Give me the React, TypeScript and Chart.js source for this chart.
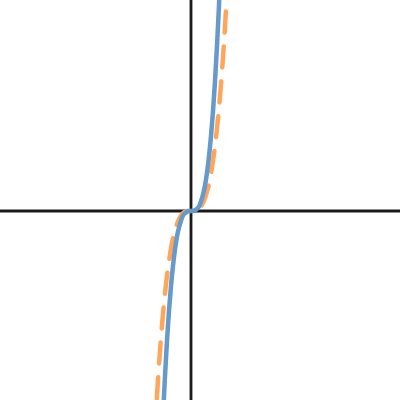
import { useEffect, useRef } from "react";
import { Chart, registerables } from "chart.js";

Chart.register(...registerables);

// values
const blueX = [-1.5, -1.4, -1.3, -1.2, -1.1, -1.0, -0.9, -0.8, -0.7, -0.6, -0.5, -0.4, -0.3, -0.2, -0.1, 0,
  0.1, 0.2, 0.3, 0.4, 0.5, 0.6, 0.7, 0.8, 0.9, 1.0, 1.1, 1.2, 1.3, 1.4, 1.5];
const blueY = [-3.38, -2.74, -2.2, -1.73, -1.33, -1.0, -0.73, -0.51, -0.34, -0.22, -0.13, -0.06, -0.03, -0.01, 0, 0,
  0, 0.01, 0.03, 0.06, 0.13, 0.22, 0.34, 0.51, 0.73, 1.0, 1.33, 1.73, 2.2, 2.74, 3.38];

const orangeX = [-1.9, -1.8, -1.7, -1.6, -1.5, -1.4, -1.3, -1.2, -1.1, -1.0, -0.9, -0.8, -0.7, -0.6, -0.5, -0.4, -0.3, -0.2, -0.1, 0,
  0.1, 0.2, 0.3, 0.4, 0.5, 0.6, 0.7, 0.8, 0.9, 1.0, 1.1, 1.2, 1.3, 1.4, 1.5, 1.6, 1.7, 1.8, 1.9];
const orangeY = [-3.43, -2.92, -2.46, -2.05, -1.69, -1.37, -1.1, -0.86, -0.67, -0.5, -0.36, -0.26, -0.17, -0.11, -0.06, -0.03, -0.01, 0, 0, 0,
  0, 0, 0.01, 0.03, 0.06, 0.11, 0.17, 0.26, 0.36, 0.5, 0.67, 0.86, 1.1, 1.37, 1.69, 2.05, 2.46, 2.92, 3.43];

const xRange = [-9.55, 10.45];
const yRange = [-2.52, 2.813];

const toPoints = (xs: number[], ys: number[]) => xs.map((x, i) => ({ x, y: ys[i] }));

// draws the two axis lines through zero across the whole canvas
const zeroAxes = {
  id: "zeroAxes",
  beforeDatasetsDraw(chart: any) {
    const { ctx, scales, width, height } = chart;
    const px = scales.x.getPixelForValue(0);
    const py = scales.y.getPixelForValue(0);
    ctx.save();
    ctx.strokeStyle = "#1a1a1a";
    ctx.lineWidth = 2.8;
    ctx.beginPath();
    ctx.moveTo(0, py);
    ctx.lineTo(width, py);
    ctx.moveTo(px, 0);
    ctx.lineTo(px, height);
    ctx.stroke();
    ctx.restore();
  },
};

export default function App() {
  const chartRef = useRef<HTMLCanvasElement>(null);

  useEffect(() => {
    let myChart: Chart | null = null;
    if (chartRef.current) {
      myChart = new Chart(chartRef.current, {
        type: "line",
        data: {
          datasets: [
            {
              data: toPoints(blueX, blueY),
              borderColor: "rgb(102,153,204)",
              borderWidth: 4.5,
              pointRadius: 0,
              cubicInterpolationMode: "monotone",
              fill: false,
            },
            {
              data: toPoints(orangeX, orangeY),
              borderColor: "rgb(255,166,90)",
              borderWidth: 4.5,
              borderDash: [21, 14],
              borderCapStyle: "round",
              pointRadius: 0,
              cubicInterpolationMode: "monotone",
              fill: false,
            },
          ],
        },
        options: {
          animation: false,
          responsive: true,
          maintainAspectRatio: false,
          layout: { padding: 0 },
          plugins: {
            legend: { display: false },
            tooltip: { enabled: false },
          },
          scales: {
            x: { type: "linear", min: xRange[0], max: xRange[1], display: false },
            y: { type: "linear", min: yRange[0], max: yRange[1], display: false },
          },
        },
        plugins: [zeroAxes],
      });
    }
    return () => {
      if (myChart) {
        myChart.destroy();
      }
    };
  }, []);

  return (
    <div style={{ position: "fixed", left: 0, top: 0, width: 400, height: 400, background: "#fff" }}>
      <canvas ref={chartRef}></canvas>
    </div>
  );
}
